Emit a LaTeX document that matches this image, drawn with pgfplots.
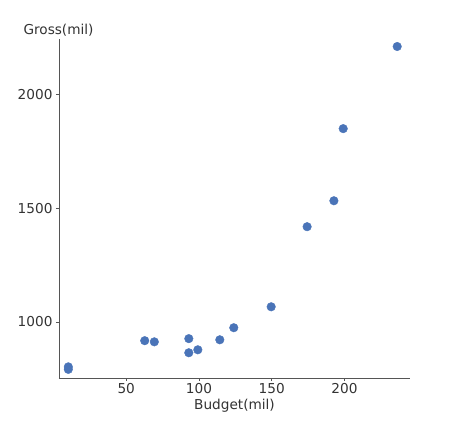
\documentclass[border=0pt]{standalone}
\usepackage{pgfplots}
\pgfplotsset{compat=1.18}
\usepackage{fontspec}
\setmainfont{DejaVu Sans}
\definecolor{pt}{HTML}{4A74B8}
\definecolor{ax}{HTML}{555555}
\begin{document}
\begin{tikzpicture}[x=1bp,y=1bp]
\path[use as bounding box] (-59bp,-50bp) rectangle (415bp,378bp);
\begin{axis}[
  scale only axis, width=351bp, height=339bp,
  xmin=3.8, xmax=245, ymin=754, ymax=2244,
  axis x line*=bottom, axis y line*=left,
  axis line style={ax, line width=0.9pt, -},
  xtick={50,100,150,200}, ytick={1000,1500,2000},
  tick style={ax, line width=0.6pt},
  tick align=outside, major tick length=3bp,
  ticklabel style={font=\fontsize{13.7}{15}\selectfont, text=black!80},
  /pgf/number format/assume math mode=true,
  /pgf/number format/set thousands separator={},
  xticklabel style={yshift=1bp},
  xlabel={Budget(mil)},
  xlabel style={font=\fontsize{13.7}{15}\selectfont, text=black!80, yshift=2bp},
  clip=false,
]
\addplot[only marks, mark=*, mark size=4.3bp, mark options={fill=pt, draw=pt}] coordinates {
(10.2,803) (10.2,792) (62.7,918) (69.3,913) (93,927) (93,865) (99.2,878)
(114.3,922) (123.9,975) (149.6,1067) (174.3,1419) (192.7,1533) (199.1,1850) (236.2,2211)
};
\node[font=\fontsize{13.7}{15}\selectfont, text=black!80, anchor=base west] at (rel axis cs:0,1) [xshift=-39bp, yshift=4bp] {Gross(mil)};
\end{axis}
\end{tikzpicture}
\end{document}
